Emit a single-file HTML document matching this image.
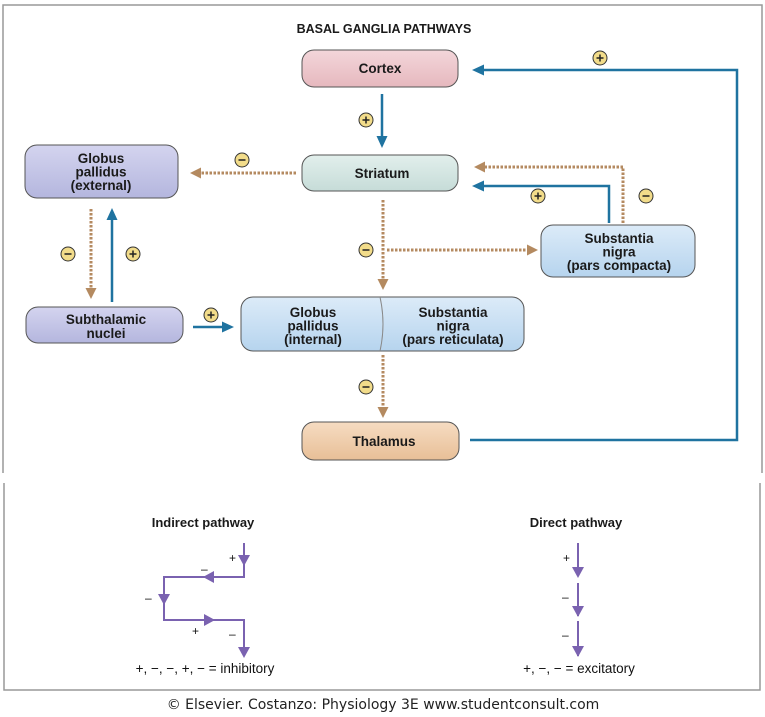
<!DOCTYPE html>
<html><head><meta charset="utf-8"><style>
body{margin:0;background:#fff;}
svg{display:block;font-family:"Liberation Sans",Arial,sans-serif;}
.b{font-weight:bold;font-size:13.5px;fill:#1a1a1a;text-anchor:middle;}
</style></head><body>
<svg width="765" height="717" viewBox="0 0 765 717" xmlns="http://www.w3.org/2000/svg">
<defs>
<marker id="bl" markerWidth="12" markerHeight="11" refX="6" refY="5.5" orient="auto" markerUnits="userSpaceOnUse"><path d="M0,0 L12,5.5 L0,11 z" fill="#1f73a0"/></marker>
<marker id="br" markerWidth="11" markerHeight="11" refX="5" refY="5.5" orient="auto" markerUnits="userSpaceOnUse"><path d="M0,0 L11,5.5 L0,11 z" fill="#b48a60"/></marker>
<linearGradient id="gC" x1="0" y1="0" x2="0" y2="1"><stop offset="0" stop-color="#f3d6da"/><stop offset="1" stop-color="#e6b8be"/></linearGradient>
<linearGradient id="gS" x1="0" y1="0" x2="0" y2="1"><stop offset="0" stop-color="#e2efec"/><stop offset="1" stop-color="#c6dcd8"/></linearGradient>
<linearGradient id="gG" x1="0" y1="0" x2="0" y2="1"><stop offset="0" stop-color="#d4d4ef"/><stop offset="1" stop-color="#b4b6de"/></linearGradient>
<linearGradient id="gB" x1="0" y1="0" x2="0" y2="1"><stop offset="0" stop-color="#dcebf8"/><stop offset="1" stop-color="#b6d4ee"/></linearGradient>
<linearGradient id="gT" x1="0" y1="0" x2="0" y2="1"><stop offset="0" stop-color="#f6dcc2"/><stop offset="1" stop-color="#e8bf97"/></linearGradient>
</defs>
<path d="M3,473 V5 H762 V473" fill="none" stroke="#999" stroke-width="1.5"/>
<path d="M4,483 V690 H760 V483" fill="none" stroke="#999" stroke-width="1.5"/>
<text x="384" y="33" class="b" style="font-size:12.5px">BASAL GANGLIA PATHWAYS</text>

<rect x="302" y="50" width="156" height="37" rx="12" fill="url(#gC)" stroke="#555"/>
<text x="380" y="73" class="b">Cortex</text>
<rect x="302" y="155" width="156" height="36" rx="12" fill="url(#gS)" stroke="#555"/>
<text x="382" y="178" class="b">Striatum</text>
<rect x="25" y="145" width="153" height="53" rx="12" fill="url(#gG)" stroke="#555"/>
<text x="101" y="163" class="b">Globus</text><text x="101" y="176.5" class="b">pallidus</text><text x="101" y="190" class="b">(external)</text>
<rect x="26" y="307" width="157" height="36" rx="12" fill="url(#gG)" stroke="#555"/>
<text x="106" y="324" class="b">Subthalamic</text><text x="106" y="338" class="b">nuclei</text>
<rect x="241" y="297" width="283" height="54" rx="12" fill="url(#gB)" stroke="#555"/>
<path d="M380,297 Q386,324 380,351" fill="none" stroke="#888"/>
<text x="313" y="317" class="b">Globus</text><text x="313" y="330.5" class="b">pallidus</text><text x="313" y="344" class="b">(internal)</text>
<text x="453" y="317" class="b">Substantia</text><text x="453" y="330.5" class="b">nigra</text><text x="453" y="344" class="b">(pars reticulata)</text>
<rect x="541" y="225" width="154" height="52" rx="12" fill="url(#gB)" stroke="#555"/>
<text x="619" y="243" class="b">Substantia</text><text x="619" y="256.5" class="b">nigra</text><text x="619" y="270" class="b">(pars compacta)</text>
<rect x="302" y="422" width="157" height="38" rx="12" fill="url(#gT)" stroke="#555"/>
<text x="384" y="446" class="b">Thalamus</text>

<g stroke="#1f73a0" stroke-width="2.5" fill="none">
<path d="M382,94 V142" marker-end="url(#bl)"/>
<path d="M470,440 H737 V70 H478" marker-end="url(#bl)"/>
<path d="M609,223 V186 H478" marker-end="url(#bl)"/>
<path d="M112,302 V214" marker-end="url(#bl)"/>
<path d="M193,327 H228" marker-end="url(#bl)"/>
</g>
<g stroke="#b48a60" stroke-width="3" fill="none" stroke-dasharray="2.5 1.5">
<path d="M296,173 H196" marker-end="url(#br)"/>
<path d="M623,223 V167 H480" marker-end="url(#br)"/>
<path d="M383,200 V284" marker-end="url(#br)"/>
<path d="M387,250 H532" marker-end="url(#br)"/>
<path d="M91,209 V293" marker-end="url(#br)"/>
<path d="M383,355 V412" marker-end="url(#br)"/>
</g>
<g stroke="#333" stroke-width="1" fill="#f2dc8a">
<circle cx="600" cy="58" r="7"/><circle cx="366" cy="120" r="7"/>
<circle cx="242" cy="160" r="7"/><circle cx="538" cy="196" r="7"/>
<circle cx="646" cy="196" r="7"/><circle cx="68" cy="254" r="7"/>
<circle cx="133" cy="254" r="7"/><circle cx="366" cy="250" r="7"/>
<circle cx="211" cy="315" r="7"/><circle cx="366" cy="387" r="7"/>
</g>
<g stroke="#222" stroke-width="1.5">
<path d="M596.5,58h7M600,54.5v7"/><path d="M362.5,120h7M366,116.5v7"/>
<path d="M238.5,160h7"/><path d="M534.5,196h7M538,192.5v7"/>
<path d="M642.5,196h7"/><path d="M64.5,254h7"/>
<path d="M129.5,254h7M133,250.5v7"/><path d="M362.5,250h7"/>
<path d="M207.5,315h7M211,311.5v7"/><path d="M362.5,387h7"/>
</g>

<text x="203" y="527" class="b" style="font-size:13px">Indirect pathway</text>
<text x="576" y="527" class="b" style="font-size:13px">Direct pathway</text>
<g stroke="#7a62b0" stroke-width="2" fill="none">
<path d="M244,543 V577 H164 V620 H244 V655"/>
</g>
<g fill="#7a62b0">
<path d="M238,555 L250,555 L244,566z"/>
<path d="M203,577 L214,571 L214,583z"/>
<path d="M158,594 L170,594 L164,605z"/>
<path d="M215,620 L204,614 L204,626z"/>
<path d="M238,647 L250,647 L244,658z"/>
</g>
<g font-size="12" fill="#111">
<text x="229" y="562">+</text><text x="201" y="573">–</text><text x="145" y="602">–</text>
<text x="192" y="635">+</text><text x="229" y="638">–</text>
</g>
<g stroke="#7a62b0" stroke-width="2"><path d="M578,543V576M578,583V616M578,621V656"/></g>
<g fill="#7a62b0">
<path d="M572,567 L584,567 L578,578z"/><path d="M572,606 L584,606 L578,617z"/><path d="M572,646 L584,646 L578,657z"/>
</g>
<g font-size="12" fill="#111"><text x="563" y="562">+</text><text x="562" y="601">–</text><text x="562" y="639">–</text></g>
<text x="205" y="673" font-size="13.5" text-anchor="middle" fill="#111">+, −, −, +, − = inhibitory</text>
<text x="579" y="673" font-size="13.5" text-anchor="middle" fill="#111">+, −, − = excitatory</text>
<text x="383" y="709" font-size="14" text-anchor="middle" fill="#222" font-family="DejaVu Sans, sans-serif">© Elsevier. Costanzo: Physiology 3E www.studentconsult.com</text>
</svg>
</body></html>
